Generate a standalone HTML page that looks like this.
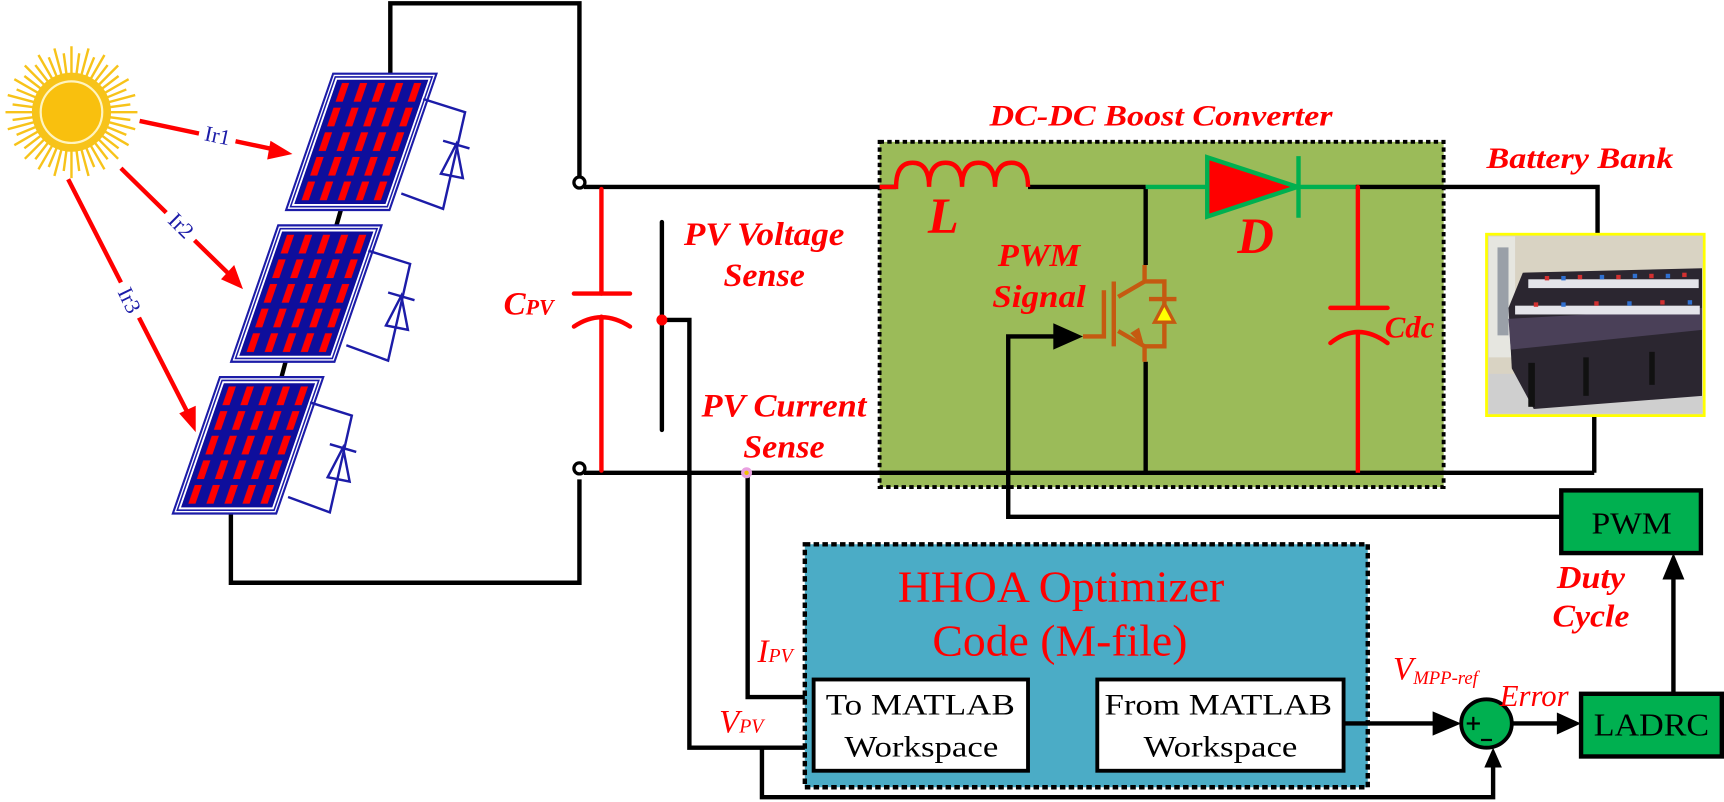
<!DOCTYPE html>
<html><head><meta charset="utf-8"><style>html,body{margin:0;padding:0;background:#fff}svg{display:block}svg text{font-family:"Liberation Serif","DejaVu Serif",serif}</style></head>
<body>
<svg width="1724" height="802" viewBox="0 0 1568 729.4" xmlns="http://www.w3.org/2000/svg">
<defs>
<pattern id="cells" patternUnits="userSpaceOnUse" x="6" y="6" width="16.4" height="22.4">
<rect width="16.4" height="22.4" fill="#0e0e9c"/>
<rect x="5" y="2.5" width="6.5" height="17" fill="#ff0000"/>
</pattern>
<g id="panel">
<g transform="matrix(1,0,-0.345,1,0,0)">
<rect x="0" y="0" width="94" height="124" fill="#fff" stroke="#1c1ca8" stroke-width="2"/>
<rect x="3" y="3" width="88" height="118" fill="#fff" stroke="#1c1ca8" stroke-width="1.5"/>
<rect x="6" y="6" width="82" height="112" fill="url(#cells)" stroke="#0e0e9c" stroke-width="1"/>
</g>
<polyline points="82,23 120,35 100,123 62,109" fill="none" stroke="#1c1ca8" stroke-width="2.2"/>
<polygon points="112,64 98,91 118,95" fill="none" stroke="#1c1ca8" stroke-width="2.2"/>
<line x1="100" y1="61" x2="124" y2="68" stroke="#1c1ca8" stroke-width="2.2"/>
</g>
</defs>

<!-- Sun -->
<g transform="translate(65,102)" stroke="#f7c31a" stroke-width="2.2">
<line x1="-60" y1="0" x2="60" y2="0"/><line x1="0" y1="-60" x2="0" y2="60"/>
<g transform="rotate(15)"><line x1="-60" y1="0" x2="60" y2="0"/><line x1="0" y1="-60" x2="0" y2="60"/></g>
<g transform="rotate(30)"><line x1="-60" y1="0" x2="60" y2="0"/><line x1="0" y1="-60" x2="0" y2="60"/></g>
<g transform="rotate(45)"><line x1="-60" y1="0" x2="60" y2="0"/><line x1="0" y1="-60" x2="0" y2="60"/></g>
<g transform="rotate(60)"><line x1="-60" y1="0" x2="60" y2="0"/><line x1="0" y1="-60" x2="0" y2="60"/></g>
<g transform="rotate(75)"><line x1="-60" y1="0" x2="60" y2="0"/><line x1="0" y1="-60" x2="0" y2="60"/></g>
<g transform="rotate(7.5)"><line x1="-54" y1="0" x2="54" y2="0"/><line x1="0" y1="-54" x2="0" y2="54"/></g>
<g transform="rotate(22.5)"><line x1="-54" y1="0" x2="54" y2="0"/><line x1="0" y1="-54" x2="0" y2="54"/></g>
<g transform="rotate(37.5)"><line x1="-54" y1="0" x2="54" y2="0"/><line x1="0" y1="-54" x2="0" y2="54"/></g>
<g transform="rotate(52.5)"><line x1="-54" y1="0" x2="54" y2="0"/><line x1="0" y1="-54" x2="0" y2="54"/></g>
<g transform="rotate(67.5)"><line x1="-54" y1="0" x2="54" y2="0"/><line x1="0" y1="-54" x2="0" y2="54"/></g>
<g transform="rotate(82.5)"><line x1="-54" y1="0" x2="54" y2="0"/><line x1="0" y1="-54" x2="0" y2="54"/></g>
<circle r="36" fill="#f7c31a" stroke="none"/>
<circle r="28" fill="#f9c00e" stroke="#fff4c0" stroke-width="2"/>
</g>

<!-- Irradiance arrows -->
<g stroke="#ff0000" stroke-width="4" fill="#ff0000">
<line x1="127" y1="110" x2="250" y2="136"/><polygon points="266,140 246,128 243,145" stroke="none"/>
<line x1="110" y1="153" x2="210" y2="251"/><polygon points="221,263 213,241 201,254" stroke="none"/>
<line x1="62" y1="163" x2="172" y2="378"/><polygon points="178,393 178,369 163,376" stroke="none"/>
</g>
<g fill="#1c1ca8" font-size="20">
<rect x="181" y="112" width="34" height="22" fill="#fff" transform="rotate(12 198 123)"/>
<text x="198" y="130" text-anchor="middle" transform="rotate(12 198 123)">Ir1</text>
<rect x="147" y="194" width="36" height="22" fill="#fff" transform="rotate(45 165 205)"/>
<text x="165" y="212" text-anchor="middle" transform="rotate(45 165 205)">Ir2</text>
<rect x="100" y="262" width="36" height="22" fill="#fff" transform="rotate(64 118 273)"/>
<text x="118" y="280" text-anchor="middle" transform="rotate(64 118 273)">Ir3</text>
</g>

<!-- Panels -->
<g stroke="#000" stroke-width="4" fill="none">
<polyline points="355,67 355,3 527,3 527,162"/>
<line x1="310" y1="191" x2="306" y2="205"/>
<line x1="260" y1="328" x2="256" y2="343"/>
<polyline points="210,467 210,530 527,530 527,436"/>
</g>
<use href="#panel" transform="translate(303,67)"/>
<use href="#panel" transform="translate(253,205)"/>
<use href="#panel" transform="translate(200,343)"/>

<!-- Green boost box -->
<rect x="800" y="129" width="513" height="314" fill="#9bbb59" stroke="#000" stroke-width="3.5" stroke-dasharray="4,3"/>

<!-- main rails -->
<g stroke="#000" stroke-width="4" fill="none">
<line x1="531" y1="170" x2="815" y2="170"/>
<line x1="935" y1="170" x2="1042" y2="170"/>
<polyline points="1233,170 1453,170 1453,213"/>
<line x1="531" y1="430" x2="1450" y2="430"/>
<line x1="1450" y1="430" x2="1450" y2="378"/>
<line x1="1042" y1="170" x2="1042" y2="241"/>
<line x1="1042" y1="329" x2="1042" y2="430"/>
</g>
<circle cx="527" cy="166" r="5" fill="#fff" stroke="#000" stroke-width="3"/>
<circle cx="527" cy="426" r="5" fill="#fff" stroke="#000" stroke-width="3"/>

<!-- Cpv -->
<g stroke="#ff0000" stroke-width="4" fill="none" stroke-linecap="round">
<line x1="547" y1="172" x2="547" y2="267"/>
<line x1="522" y1="267" x2="573" y2="267"/>
<path d="M522,297 Q547,280 573,297"/>
<line x1="547" y1="288" x2="547" y2="428"/>
</g>
<text x="458" y="286" fill="#ff0000" font-style="italic" font-weight="bold" font-size="30">C<tspan font-size="20">PV</tspan></text>

<!-- voltage sense -->
<g stroke="#000" stroke-width="4" fill="none">
<line x1="602" y1="202" x2="602" y2="391" stroke-linecap="round"/>
<polyline points="602,291 627,291 627,680 740,680"/>
<polyline points="680,430 680,634 740,634"/>
<polyline points="693,680 693,725 1358,725 1358,690"/>
</g>
<circle cx="602" cy="291" r="5" fill="#ff0000"/>
<circle cx="679" cy="430" r="5" fill="#e9a0e0"/>
<circle cx="679" cy="430" r="2" fill="#f0c000"/>

<!-- Inductor -->
<path d="M800,170 L815,170 Q815,148 830,148 Q845,148 845,170 Q845,148 860,148 Q875,148 875,170 Q875,148 890,148 Q905,148 905,170 Q905,148 920,148 Q935,148 935,170" fill="none" stroke="#ff0000" stroke-width="4"/>

<!-- Diode -->
<line x1="1042" y1="170" x2="1233" y2="170" stroke="#00b050" stroke-width="4"/>
<polygon points="1098,143 1098,197 1180,170" fill="#ff0000" stroke="#00b050" stroke-width="4"/>
<line x1="1181" y1="142" x2="1181" y2="198" stroke="#00b050" stroke-width="4"/>

<!-- IGBT -->
<g stroke="#c55a11" stroke-width="4" fill="none">
<polyline points="1041,241 1041,256 1017,270"/>
<line x1="1013" y1="256" x2="1013" y2="315"/>
<polyline points="985,306 1004,306 1004,264"/>
<polyline points="1017,301 1041,315 1041,329"/>
<polyline points="1041,256 1059,256 1059,315 1041,315"/>
<line x1="1045" y1="272" x2="1070" y2="272"/>
</g>
<polygon points="1059,276 1050,293 1068,293" fill="#ffff00" stroke="#c55a11" stroke-width="3"/>
<polygon points="1041,316 1028,303 1036,298" fill="#c55a11"/>

<!-- gate feedback -->
<polyline points="1420,470 917,470 917,306 960,306" fill="none" stroke="#000" stroke-width="4"/>
<polygon points="985,306 958,294 958,318" fill="#000"/>

<!-- Cdc -->
<g stroke="#ff0000" stroke-width="4" fill="none" stroke-linecap="round">
<line x1="1235" y1="170" x2="1235" y2="280"/>
<line x1="1210" y1="280" x2="1262" y2="280"/>
<path d="M1210,312 Q1235,292 1262,312"/>
<line x1="1235" y1="300" x2="1235" y2="430" stroke-linecap="butt"/>
</g>

<!-- Battery photo -->
<g>
<rect x="1352" y="213" width="198" height="165" fill="#d9d3c3"/>
<rect x="1354" y="215" width="24" height="110" fill="#e6e6e0"/>
<rect x="1362" y="225" width="10" height="80" fill="#9aa0a8"/>
<rect x="1354" y="340" width="194" height="36" fill="#cfcfcf"/>
<polygon points="1385,248 1548,244 1548,360 1395,372 1375,335 1372,280" fill="#2b2630"/>
<polygon points="1372,290 1548,280 1548,300 1374,318" fill="#4a4058"/>
<rect x="1390" y="254" width="155" height="8" fill="#e4e4ea"/>
<rect x="1378" y="278" width="168" height="8" fill="#e4e4ea"/>
<g fill="#d23030"><rect x="1405" y="251" width="4" height="4"/><rect x="1435" y="250" width="4" height="4"/><rect x="1470" y="250" width="4" height="4"/><rect x="1500" y="249" width="4" height="4"/><rect x="1530" y="248" width="4" height="4"/><rect x="1395" y="275" width="4" height="4"/><rect x="1450" y="274" width="4" height="4"/><rect x="1510" y="273" width="4" height="4"/></g>
<g fill="#3070d0"><rect x="1420" y="251" width="4" height="4"/><rect x="1455" y="250" width="4" height="4"/><rect x="1485" y="249" width="4" height="4"/><rect x="1515" y="249" width="4" height="4"/><rect x="1420" y="275" width="4" height="4"/><rect x="1480" y="274" width="4" height="4"/><rect x="1535" y="273" width="4" height="4"/></g>
<g fill="#111"><rect x="1390" y="330" width="6" height="40"/><rect x="1440" y="325" width="5" height="35"/><rect x="1500" y="320" width="5" height="30"/></g>
<rect x="1352" y="213" width="198" height="165" fill="none" stroke="#ffff00" stroke-width="2.5"/>
</g>

<!-- HHOA box -->
<rect x="732" y="495" width="512" height="221" fill="#4bacc6" stroke="#000" stroke-width="4" stroke-dasharray="5,3"/>
<text x="965" y="547" text-anchor="middle" fill="#ff0000" font-size="40" textLength="297" lengthAdjust="spacingAndGlyphs">HHOA Optimizer</text>
<text x="964" y="596" text-anchor="middle" fill="#ff0000" font-size="40" textLength="232" lengthAdjust="spacingAndGlyphs">Code (M-file)</text>
<rect x="740" y="618" width="195" height="83" fill="#fff" stroke="#000" stroke-width="3.5"/>
<rect x="998" y="618" width="224" height="83" fill="#fff" stroke="#000" stroke-width="3.5"/>
<g font-size="27" fill="#000" text-anchor="middle">
<text x="837" y="650" textLength="172" lengthAdjust="spacingAndGlyphs">To MATLAB</text>
<text x="838" y="688" textLength="140" lengthAdjust="spacingAndGlyphs">Workspace</text>
<text x="1108" y="650" textLength="207" lengthAdjust="spacingAndGlyphs">From MATLAB</text>
<text x="1110" y="688" textLength="140" lengthAdjust="spacingAndGlyphs">Workspace</text>
</g>

<!-- control loop -->
<g stroke="#000" stroke-width="4" fill="none">
<line x1="1222" y1="658" x2="1305" y2="658"/>
<line x1="1376" y1="658" x2="1418" y2="658"/>
<line x1="1522" y1="631" x2="1522" y2="525"/>
</g>
<polygon points="1329,658 1303,647 1303,669" fill="#000"/>
<polygon points="1438,658 1416,648 1416,668" fill="#000"/>
<polygon points="1358,680 1350,698 1366,698" fill="#000"/>
<polygon points="1522,503 1512,527 1532,527" fill="#000"/>
<ellipse cx="1352" cy="658" rx="23" ry="22" fill="#00b050" stroke="#000" stroke-width="3.5"/>
<line x1="1334" y1="658" x2="1346" y2="658" stroke="#000" stroke-width="2"/>
<line x1="1340" y1="652" x2="1340" y2="664" stroke="#000" stroke-width="2"/>
<line x1="1347" y1="673" x2="1357" y2="673" stroke="#000" stroke-width="2"/>
<rect x="1438" y="631" width="128" height="57" fill="#00b050" stroke="#000" stroke-width="4"/>
<text x="1502" y="669" text-anchor="middle" font-size="29" fill="#000" textLength="105" lengthAdjust="spacingAndGlyphs">LADRC</text>
<rect x="1420" y="446" width="127" height="57" fill="#00b050" stroke="#000" stroke-width="4"/>
<text x="1484" y="485" text-anchor="middle" font-size="28" fill="#000" textLength="73" lengthAdjust="spacingAndGlyphs">PWM</text>

<!-- red italic labels -->
<g fill="#ff0000" font-style="italic" font-weight="bold">
<text x="1056" y="114" text-anchor="middle" font-size="27" textLength="312" lengthAdjust="spacingAndGlyphs">DC-DC Boost Converter</text>
<text x="1437" y="153" text-anchor="middle" font-size="27" textLength="170" lengthAdjust="spacingAndGlyphs">Battery Bank</text>
<text x="858" y="212" text-anchor="middle" font-size="46">L</text>
<text x="1142" y="230" text-anchor="middle" font-size="46">D</text>
<text x="945" y="242" text-anchor="middle" font-size="29" textLength="75" lengthAdjust="spacingAndGlyphs">PWM</text>
<text x="945" y="279" text-anchor="middle" font-size="29" textLength="85" lengthAdjust="spacingAndGlyphs">Signal</text>
<text x="1282" y="307" text-anchor="middle" font-size="28">Cdc</text>
<text x="695" y="223" text-anchor="middle" font-size="30" textLength="146" lengthAdjust="spacingAndGlyphs">PV Voltage</text>
<text x="695" y="260" text-anchor="middle" font-size="30" textLength="74" lengthAdjust="spacingAndGlyphs">Sense</text>
<text x="713" y="379" text-anchor="middle" font-size="30" textLength="150" lengthAdjust="spacingAndGlyphs">PV Current</text>
<text x="713" y="416" text-anchor="middle" font-size="30" textLength="74" lengthAdjust="spacingAndGlyphs">Sense</text>
<text x="1447" y="535" text-anchor="middle" font-size="29" textLength="62" lengthAdjust="spacingAndGlyphs">Duty</text>
<text x="1447" y="570" text-anchor="middle" font-size="29" textLength="70" lengthAdjust="spacingAndGlyphs">Cycle</text>
</g>
<g fill="#ff0000" font-style="italic">
<text x="689" y="602" font-size="30">I<tspan font-size="18">PV</tspan></text>
<text x="654" y="666" font-size="30">V<tspan font-size="18">PV</tspan></text>
<text x="1267" y="618" font-size="30">V<tspan font-size="17" dy="4">MPP-ref</tspan></text>
<text x="1364" y="642" font-size="28">Error</text>
</g>
</svg>
</body></html>
